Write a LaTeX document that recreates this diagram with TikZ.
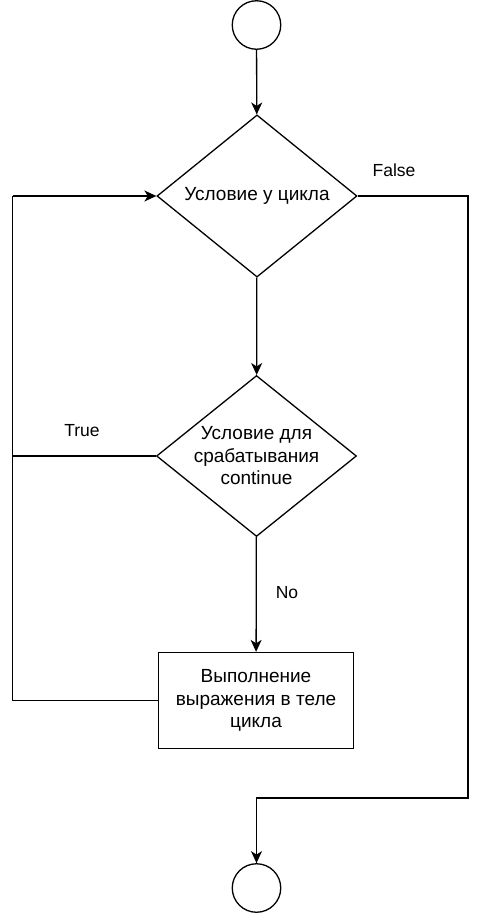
\documentclass[tikz,border=0pt]{standalone}
\usepackage{fontspec}
\setmainfont{Liberation Sans}
\usetikzlibrary{shapes.geometric,arrows.meta}
\tikzset{
    every node/.style={draw, line width=1.3pt, inner sep=0pt, align=center,
    	font=\fontsize{19}{22.5}\selectfont}
}
\tikzset{
    every edge/.append style={line width=1.3pt, -{Stealth[length=12pt,width=11pt,inset=3.5pt]}}
}
\tikzset{
	term/.style={circle, minimum size=48.5pt},
	cond/.style={diamond, minimum width=200pt, minimum height=161pt},
	act/.style={rectangle, minimum width=195pt, minimum height=96pt},
	lbl/.style={draw=none, font=\fontsize{17.5}{20}\selectfont}
}

\begin{document}
\begin{tikzpicture}[x=1pt,y=-1pt]
	\useasboundingbox (0,0) rectangle (482,915);
	\node (1) [term] at (256.5,25) {};
	\node (2) [cond] at (257,196) {Условие у цикла};
	\node (3) [cond, label={[draw=none]center:{Условие для\\срабатывания\\continue}}]
		at (256.5,456) {};
	\node (4) [act] at (256,700.5) {Выполнение\\выражения в теле\\цикла};
	\node (5) [term] at (256.5,888) {};
	\node (6) [lbl] at (394,170) {False};
	\node (7) [lbl] at (82,431) {True};
	\node (8) [lbl] at (287,593) {No};
	\coordinate (l) at (12.5,196);
	\coordinate (r) at (468,798);
	
	\draw (1) edge (2); \draw (2) edge (3); \draw (3) edge (4);
	\draw[line width=1.3pt] (3.west) -- (3.west -| l);
	\draw[line width=1.3pt] (4.west) -| (l) edge (2.west);
	\draw[line width=1.3pt] (2.east) -| (r) -| (5.north);
	\draw (r -| 5.north) edge (5.north);
\end{tikzpicture}
\end{document}
